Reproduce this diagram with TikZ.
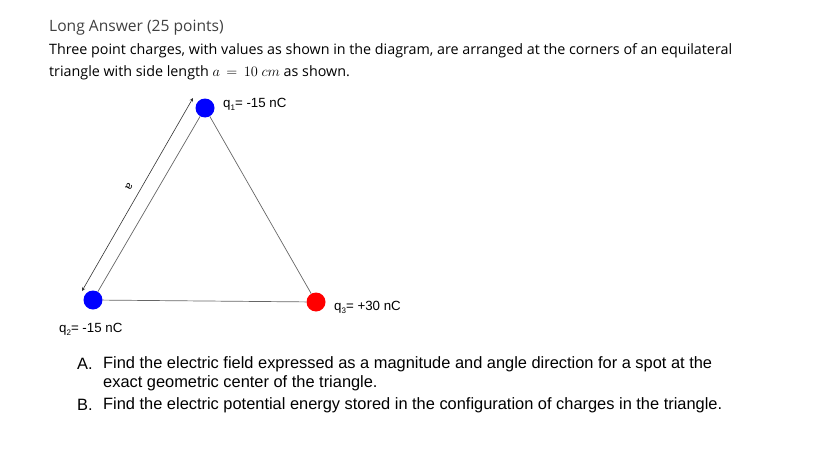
\documentclass[tikz,border=0pt]{standalone}
\usepackage{fontspec}
\setmainfont{Open Sans}
\newfontfamily\arial{Liberation Sans}
\begin{document}
\begin{tikzpicture}[x=1pt,y=-1pt,
  chg/.style={circle,inner sep=0pt,minimum size=19pt},
  lbl/.style={font=\arial\fontsize{13.3}{15}\selectfont,anchor=west,inner sep=0pt},
  side/.style={draw=black!60,line width=0.7pt},
  para/.style={font=\fontsize{14.3}{17}\selectfont,anchor=west,inner sep=0pt}]
\useasboundingbox (0,0) rectangle (819,460);
\node[para,font=\fontsize{15.6}{17}\selectfont,text=black!75] (title) at (49,28) {Long Answer (25 points)};
\node[para] (l1) at (49,51) {Three point charges, with values as shown in the diagram, are arranged at the corners of an equilateral};
\node[para] (l2) at (49,73) {triangle with side length $a\,=\,10\ cm$ as shown.};
\node[chg,fill=blue] (q1) at (205,108) {};
\node[chg,fill=blue] (q2) at (93,300) {};
\node[chg,fill=red] (q3) at (316,302) {};
\draw[side] (q1) -- (q2);
\draw[side] (q2) -- (q3);
\draw[side] (q3) -- (q1);
\coordinate (aa) at (193,98);
\coordinate (ab) at (82,291);
\draw[black!80,line width=0.6pt,<->,>=stealth] (aa) -- (ab);
\node[font=\arial\fontsize{11}{12}\selectfont,rotate=-120] (alab) at (129,187) {a};
\node[lbl] (t1) at (223,104) {q\raisebox{-3pt}{\fontsize{8}{9}\selectfont 1}= -15 nC};
\node[lbl] (t2) at (59,329) {q\raisebox{-3pt}{\fontsize{8}{9}\selectfont 2}= -15 nC};
\node[lbl] (t3) at (334,307) {q\raisebox{-3pt}{\fontsize{8}{9}\selectfont 3}= +30 nC};
\begin{scope}[every node/.style={font=\arial\fontsize{16.4}{19}\selectfont,anchor=west,inner sep=0pt}]
\node (la) at (77,364) {A.};
\node (ta) at (103,364) {Find the electric field expressed as a magnitude and angle direction for a spot at the};
\node (ta2) at (103,383) {exact geometric center of the triangle.};
\node (lb) at (77,405) {B.};
\node (tb) at (103,405) {Find the electric potential energy stored in the configuration of charges in the triangle.};
\end{scope}
\end{tikzpicture}
\end{document}
